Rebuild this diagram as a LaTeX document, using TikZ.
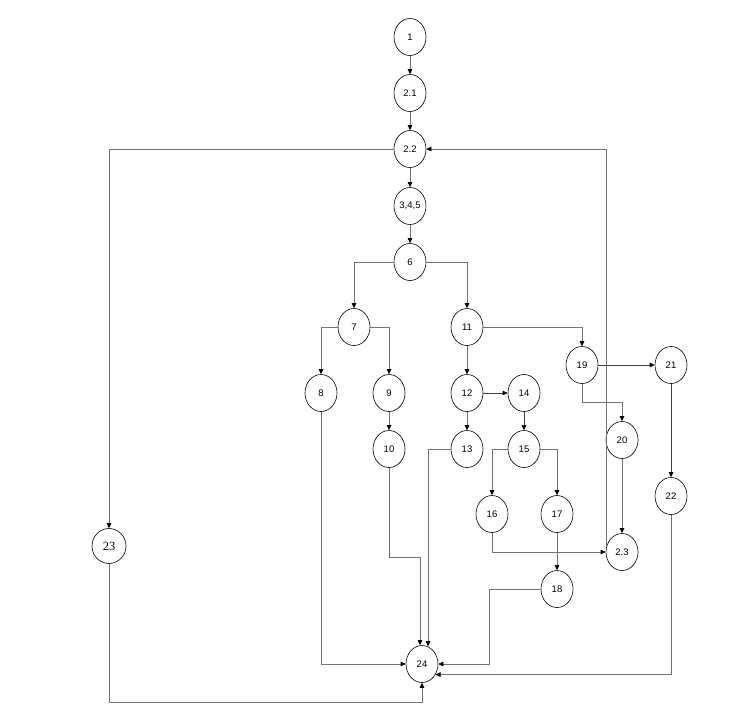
\documentclass[tikz,border=0pt]{standalone}
\usepackage{fontspec}
\setmainfont{Liberation Sans}
\newfontfamily\serifnum{Liberation Serif}
\usetikzlibrary{shapes.geometric,arrows.meta,calc}
\tikzset{
  vtx/.style={ellipse,draw=black,line width=0.6pt,minimum width=32pt,minimum height=37pt,inner sep=0pt,font=\fontsize{9.5}{11}\selectfont},
  bigvtx/.style={vtx,minimum width=34pt,minimum height=35pt,font=\serifnum\fontsize{12.5}{14}\selectfont},
  edge/.style={draw=black!55,line width=0.6pt,-{Triangle[length=5pt,width=4.5pt,color=black]}},
  darkedge/.style={edge,draw=black!75,line width=0.8pt}
}
\begin{document}
\begin{tikzpicture}[x=1pt,y=-1pt]
\useasboundingbox (0,0) rectangle (751,710);
\node[vtx] (a1) at (410,37) {1};
\node[vtx] (b1) at (410,93) {2.1};
\node[vtx] (b2) at (410,149) {2.2};
\node[vtx] (n345) at (410,206) {3,4,5};
\node[vtx] (n6) at (410,262) {6};
\node[vtx] (n7) at (354,327) {7};
\node[vtx] (n11) at (467,327) {11};
\node[vtx] (n19) at (582,365) {19};
\node[vtx] (n21) at (671,365) {21};
\node[vtx] (n8) at (321,393) {8};
\node[vtx] (n9) at (389,393) {9};
\node[vtx] (n12) at (467,393) {12};
\node[vtx] (n14) at (524,393) {14};
\node[vtx] (n20) at (622,440) {20};
\node[vtx] (n10) at (389,449) {10};
\node[vtx] (n13) at (467,449) {13};
\node[vtx] (n15) at (524,449) {15};
\node[vtx] (n22) at (671,496) {22};
\node[vtx] (n16) at (492,514) {16};
\node[vtx] (n17) at (557,514) {17};
\node[vtx] (b3) at (622,552) {2.3};
\node[vtx] (n18) at (557,589) {18};
\node[vtx] (n24) at (422,664) {24};
\node[bigvtx] (n23) at (109,546) {23};

\coordinate (c19) at (582,402);
\coordinate (c10) at (420,557);
\coordinate (c13) at (428,449);
\coordinate (c18) at (489,589);
\coordinate (c23) at (109,702);

\draw[edge] (a1) -- (b1);
\draw[edge] (b1) -- (b2);
\draw[edge] (b2) -- (n345);
\draw[edge] (n345) -- (n6);
\draw[edge] (b2.west) -| (n23.north);
\draw[edge] (n6.west) -| (n7.north);
\draw[edge] (n6.east) -| (n11.north);
\draw[edge] (n7.west) -| (n8.north);
\draw[edge] (n7.east) -| (n9.north);
\draw[edge] (n11.east) -| (n19.north);
\draw[edge] (n11) -- (n12);
\draw[darkedge] (n12) -- (n14);
\draw[edge] (n12) -- (n13);
\draw[darkedge] (n14) -- (n15);
\draw[edge] (n9) -- (n10);
\draw[darkedge] (n19) -- (n21);
\draw[edge] (n19.south) -- (c19) -| (n20.north);
\draw[darkedge] (n21) -- (n22);
\draw[edge] (n15.west) -| (n16.north);
\draw[edge] (n15.east) -| (n17.north);
\draw[edge] (n17) -- (n18);
\draw[edge] (n16.south) |- (b3.west);
\draw[edge] (n20) -- (b3);
\draw[edge] (b3.160) |- (b2.east);
\draw[edge] (n8.south) |- (n24.west);
\draw[edge] (n10.south) |- (c10) -- (c10 |- n24.north);
\draw[edge] (n13.west) -- (c13) -- ($(c13 |- n24.north)+(0,1)$);
\draw[edge] (n18.west) -- (c18) |- (n24.east);
\draw[edge] (n22.south) |- (n24.-38);
\draw[edge] (n23.south) -- (c23) -| (n24.south);
\end{tikzpicture}
\end{document}
